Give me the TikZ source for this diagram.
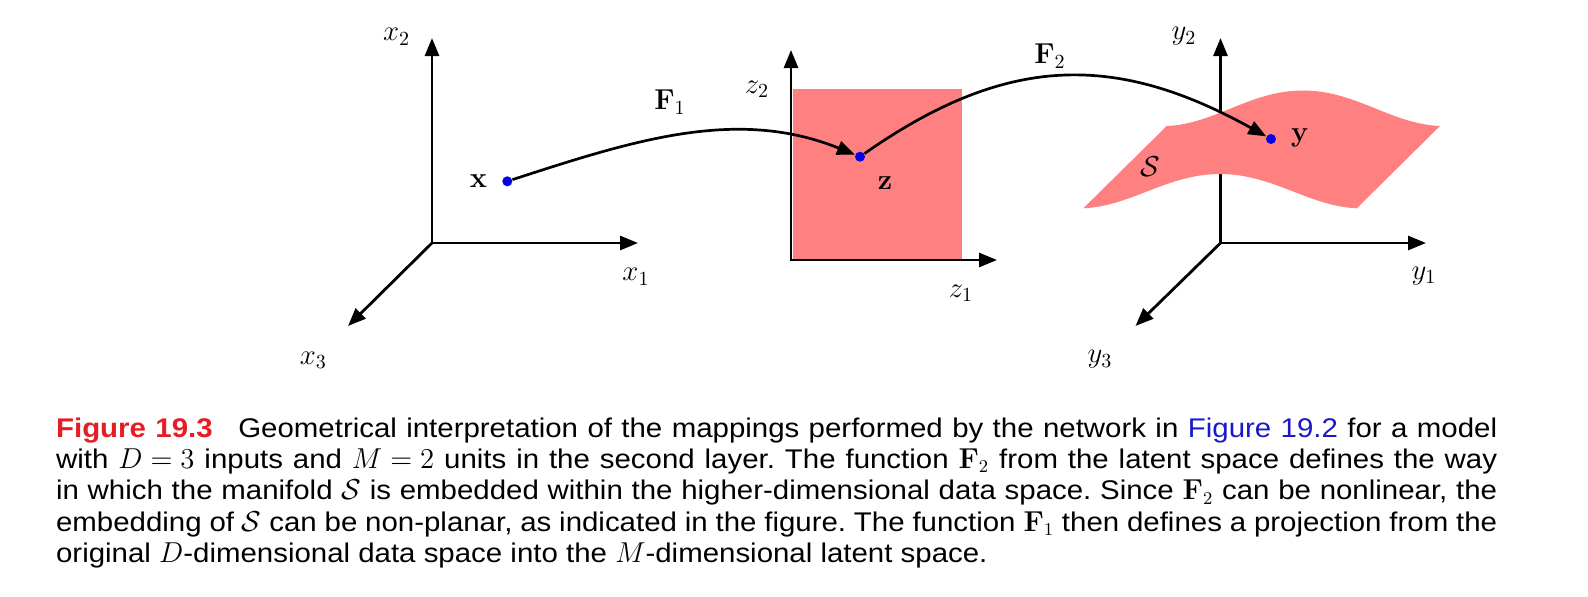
\documentclass[tikz,border=0pt]{standalone}
\usepackage[no-math]{fontspec}
\setmainfont{Liberation Sans}[FakeStretch=1.09]
\usetikzlibrary{arrows.meta}
\definecolor{pinkfill}{RGB}{255,128,128}
\definecolor{dotblue}{RGB}{0,0,235}
\definecolor{figred}{RGB}{228,30,36}
\definecolor{figblue}{RGB}{25,25,200}
\frenchspacing
\begin{document}
\begin{tikzpicture}[x=0.5pt,y=0.5pt,
  axis/.style={line width=1.4pt,-{Triangle[length=9pt,width=7pt]}},
  axistwo/.style={line width=1.4pt,{Triangle[length=9pt,width=7pt]}-{Triangle[length=9pt,width=7pt]}},
  map/.style={line width=1.35pt,-{Triangle[length=9pt,width=7pt]}},
  pt/.style={circle,inner sep=0pt,minimum size=5pt},
  lab/.style={inner sep=0pt,font=\fontsize{13.6}{16}\selectfont},
  capline/.style={anchor=base west,inner sep=0pt,font=\fontsize{13.5}{15.7}\selectfont}]
\useasboundingbox (0,0) rectangle (1588,-596);

% latent square
\fill[pinkfill] (793,-89) rectangle (962,-260);

% coordinates of axes
\coordinate (xo) at (432,-243);
\coordinate (xa1) at (638,-243);
\coordinate (xa2) at (432,-38);
\coordinate (xa3) at (348,-326);
\coordinate (zo) at (791,-260);
\coordinate (za1) at (997,-260);
\coordinate (za2) at (791,-50);
\coordinate (yo) at (1220.5,-243);
\coordinate (ya1) at (1426,-243);
\coordinate (ya2) at (1220.5,-38);
\coordinate (ya3) at (1135.5,-326);

% axes
\draw[axistwo] (xa2) -- (xo) -- (xa1);
\draw[axis] (xo) -- (xa3);
\draw[axistwo] (za2) -- (zo) -- (za1);
\draw[axistwo] (ya2) -- (yo) -- (ya1);
\draw[axis] (yo) -- (ya3);

% manifold
\fill[pinkfill] (1166.7,-126) .. controls (1215,-124) and (1250,-90.5) .. (1303,-90.5)
  .. controls (1356,-90.5) and (1391,-124) .. (1440,-126)
  -- (1356.7,-208.3) .. controls (1308,-206) and (1273,-174) .. (1220,-174)
  .. controls (1167,-174) and (1132,-206) .. (1083.3,-208.3) -- cycle;

% axis labels
\node[lab] (lx2) at (396.7,-36.7) {$x_2$};
\node[lab] (lx1) at (636,-276.7) {$x_1$};
\node[lab] (lx3) at (313.3,-360) {$x_3$};
\node[lab] (lz2) at (757,-89) {$z_2$};
\node[lab] (lz1) at (961,-293) {$z_1$};
\node[lab] (ly2) at (1184,-36.5) {$y_2$};
\node[lab] (ly1) at (1424,-276) {$y_1$};
\node[lab] (ly3) at (1100,-359.5) {$y_3$};

% points
\node[pt] (xd) at (507.3,-181.3) {};
\node[pt] (zd) at (860,-156.7) {};
\node[pt] (yd) at (1271,-139) {};
\node[lab] (lx) at (478.3,-181.3) {$\mathbf{x}$};
\node[lab] (lz) at (885,-183) {$\mathbf{z}$};
\node[lab] (ly) at (1300,-137.5) {$\mathbf{y}$};
\node[lab] (lS) at (1150,-167) {$\mathcal{S}$};
\node[lab] (lF1) at (670,-102) {$\mathbf{F}_1$};
\node[lab] (lF2) at (1050,-56) {$\mathbf{F}_2$};

% mappings
\draw[map] (xd) to[out=18,in=158,looseness=0.95] (zd);
\draw[map] (zd) to[out=35,in=151,looseness=1.1] (yd);
\fill[dotblue] (xd.center) circle (2.5pt);
\fill[dotblue] (zd.center) circle (2.5pt);
\fill[dotblue] (yd.center) circle (2.5pt);

% caption
\node[capline] (c1) at (55.7,-437) {\hbox to 720.5pt{\textcolor{figred}{\textbf{Figure 19.3}}\hspace{0.6em} Geometrical interpretation of the mappings performed by the network in \textcolor{figblue}{Figure 19.2} for a model}};
\node[capline] (c2) at (55.7,-468.4) {\hbox to 720.5pt{with ${D=3}$ inputs and ${M=2}$ units in the second layer. The function $\mathbf{F}_2$ from the latent space defines the way}};
\node[capline] (c3) at (55.7,-499.8) {\hbox to 720.5pt{in which the manifold $\mathcal{S}$ is embedded within the higher-dimensional data space. Since $\mathbf{F}_2$ can be nonlinear, the}};
\node[capline] (c4) at (55.7,-531.2) {\hbox to 720.5pt{embedding of $\mathcal{S}$ can be non-planar, as indicated in the figure. The function $\mathbf{F}_1$ then defines a projection from the}};
\node[capline] (c5) at (55.7,-562.6) {original $D$-dimensional data space into the $M$-dimensional latent space.};
\end{tikzpicture}
\end{document}
